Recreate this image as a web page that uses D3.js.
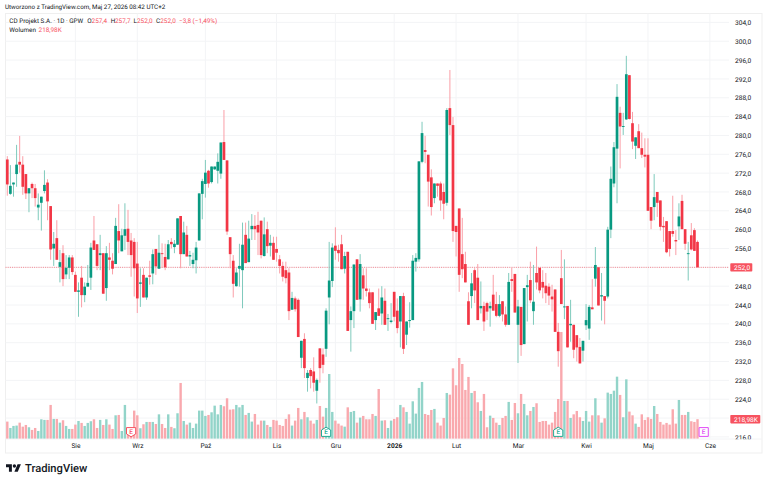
<!DOCTYPE html>
<html lang="pl">
<head>
<meta charset="utf-8">
<title>CD Projekt S.A. - 1D - GPW</title>
<script src="https://cdn.jsdelivr.net/npm/d3@7"></script>
<style>
  html, body { margin: 0; padding: 0; background: #fff; }
  svg { display: block; }
  text { font-family: Roboto, "Noto Sans", sans-serif; text-rendering: geometricPrecision; }
</style>
</head>
<body>
<svg id="chart" width="768" height="484"></svg>
<script>
// Daily sessions of CD Projekt on GPW, prices in PLN, volume in thousands of shares.
const opens = [
  274.9,267.6,269.6,271.8,274.4,273.8,271.8,267.7,269.7,268.8,
  264.7,265.7,268.2,270.0,265.0,256.0,258.2,252.1,255.0,250.5,
  251.9,254.1,250.4,246.8,249.8,246.1,247.9,249.8,257.7,256.9,
  254.6,255.0,247.6,254.1,253.4,252.7,259.7,255.4,258.7,260.2,
  257.7,257.4,252.8,248.5,250.4,245.6,250.3,250.7,255.9,251.7,
  255.0,254.2,253.7,257.4,256.3,256.8,262.9,254.8,258.9,254.3,
  252.7,253.5,257.7,267.6,269.7,272.5,270.1,272.8,272.5,271.9,
  278.6,274.7,258.4,253.4,248.0,251.7,251.4,258.9,253.1,260.1,
  260.8,261.0,261.9,254.4,260.1,256.6,257.2,255.9,253.7,252.3,
  251.4,250.9,243.0,245.4,245.1,232.8,236.8,228.5,230.2,229.9,
  225.8,234.8,233.5,234.7,245.6,249.1,256.6,255.7,256.9,251.7,
  255.3,240.8,242.7,253.7,245.2,250.3,247.5,246.7,246.7,240.8,
  243.3,242.2,244.9,241.0,240.4,246.8,242.8,240.5,245.9,237.7,
  240.6,240.8,253.2,253.7,274.4,276.9,275.9,271.1,266.7,269.8,
  269.8,268.0,265.7,285.8,282.2,260.8,264.5,254.8,252.7,244.8,
  245.9,251.4,249.8,243.3,243.8,244.4,243.3,246.2,244.2,241.7,
  244.8,242.0,239.8,249.5,250.6,239.8,243.6,235.7,247.8,249.3,
  242.7,250.8,251.9,248.9,248.1,247.9,245.8,247.3,238.3,249.7,
  243.5,243.8,239.7,239.8,237.6,235.1,234.3,239.7,239.0,243.5,
  249.6,252.0,245.8,245.9,245.8,260.0,269.8,277.2,284.8,281.8,
  283.4,292.8,282.6,277.8,280.9,277.3,275.9,275.9,264.8,264.8,
  268.0,266.2,260.8,261.8,259.7,259.7,257.8,260.7,266.1,260.1,
  254.8,258.8,259.9,257.4
];
const highs = [
  275.6,273.7,270.0,278.0,279.9,275.6,271.8,268.8,270.0,269.7,
  267.7,267.0,272.6,270.7,265.0,259.5,262.0,255.7,256.7,254.6,
  254.6,254.6,251.1,248.8,252.3,248.8,252.5,257.2,262.9,256.9,
  258.9,255.0,256.5,257.2,255.0,262.5,265.4,260.2,265.6,264.2,
  259.3,258.2,257.4,251.8,251.8,249.8,253.4,255.8,255.9,258.9,
  257.1,257.0,257.8,258.2,257.8,262.4,262.9,261.7,260.8,255.5,
  255.1,257.4,267.7,270.8,274.8,272.7,273.4,273.4,276.2,278.5,
  285.4,274.7,258.4,254.6,251.8,257.0,261.5,261.5,261.9,263.3,
  263.1,263.8,261.9,262.6,261.7,258.9,258.5,258.5,254.6,253.2,
  253.2,251.8,246.8,245.8,245.4,236.4,238.0,230.2,230.6,232.9,
  228.4,234.8,234.8,243.3,257.4,257.1,260.5,256.8,258.9,255.3,
  255.3,243.7,252.6,253.7,254.8,251.8,251.8,247.5,246.7,242.5,
  247.5,248.0,247.5,242.1,244.4,246.8,245.4,245.9,246.6,240.5,
  244.6,254.6,255.0,274.5,282.9,279.9,275.9,272.8,269.8,269.8,
  270.2,269.8,285.8,293.9,283.9,260.8,264.5,262.5,255.3,246.7,
  250.8,251.8,252.7,249.0,244.7,244.7,244.7,250.4,246.8,246.1,
  244.8,243.7,250.8,251.9,250.6,245.1,243.6,247.6,250.4,253.2,
  252.5,256.4,251.9,251.4,250.8,248.6,248.3,247.3,240.2,255.7,
  253.7,243.8,245.1,239.8,237.6,237.0,236.4,244.2,244.0,249.5,
  256.3,252.0,250.8,245.9,260.6,273.4,278.6,290.9,286.1,284.8,
  296.9,292.8,285.0,279.6,282.4,280.6,279.4,279.4,264.8,271.8,
  268.0,266.2,262.7,261.8,259.7,267.2,259.9,265.6,267.4,260.1,
  257.4,261.4,260.3,257.7
];
const lows = [
  267.2,267.4,267.0,269.1,272.1,267.4,266.5,263.7,266.7,264.9,
  262.0,259.8,267.7,262.0,253.6,252.3,253.6,248.8,248.0,249.5,
  249.5,250.4,246.8,241.5,243.5,244.6,247.9,247.2,255.7,251.4,
  251.4,246.4,244.9,251.4,250.5,252.7,255.0,255.4,255.7,254.6,
  250.0,245.8,242.3,243.6,245.6,245.1,248.3,248.4,250.4,251.7,
  251.9,251.4,253.7,256.0,255.0,256.8,251.8,254.8,254.3,252.3,
  251.8,250.7,257.7,262.2,266.8,268.9,269.8,272.7,269.8,270.8,
  274.8,258.9,251.8,245.6,247.9,247.9,243.3,252.9,253.1,257.8,
  257.8,254.6,253.9,254.3,255.0,254.3,253.6,253.2,250.7,249.0,
  248.6,240.8,243.0,242.6,237.2,230.6,228.5,225.6,226.3,225.6,
  223.1,227.5,229.5,233.0,239.9,247.8,253.6,253.2,251.6,250.7,
  238.5,234.1,239.1,245.1,242.6,245.1,245.8,243.3,240.0,238.7,
  241.7,239.8,239.8,238.5,240.1,240.5,238.0,235.0,233.6,235.5,
  239.2,240.8,251.1,253.2,274.1,274.1,264.9,263.0,265.6,267.0,
  264.0,262.2,265.1,280.1,257.4,254.3,246.8,249.7,248.8,239.8,
  243.3,244.4,240.8,242.2,238.5,240.8,239.4,242.8,241.4,241.4,
  240.5,239.4,239.8,246.8,242.4,231.7,233.2,235.7,240.5,244.4,
  239.8,247.3,246.5,245.4,244.4,244.0,242.6,238.3,230.9,244.2,
  241.0,235.0,236.2,232.7,232.0,231.6,232.0,238.7,236.6,243.1,
  247.9,243.9,240.7,239.9,245.4,258.2,269.0,265.6,273.0,280.1,
  283.3,283.4,277.1,275.0,277.3,275.2,273.2,264.0,260.1,262.0,
  262.7,259.8,257.4,255.0,254.3,258.5,254.6,257.8,260.1,255.7,
  249.2,255.6,255.5,252.0
];
const closes = [
  269.6,269.3,270.0,273.8,273.8,269.1,267.7,268.8,268.8,266.7,
  265.3,267.0,269.5,266.0,255.8,257.0,253.6,253.1,249.5,251.9,
  254.1,251.0,246.8,247.1,246.1,247.9,248.7,256.2,255.7,252.3,
  255.0,246.4,255.0,253.6,251.7,260.8,257.7,258.8,260.1,257.4,
  254.6,251.8,245.4,248.8,245.6,249.8,250.0,254.8,252.2,255.1,
  254.8,252.0,256.9,256.9,257.0,262.4,254.8,259.4,254.3,254.6,
  253.6,256.2,267.7,270.3,272.1,269.8,273.4,273.4,274.4,278.5,
  274.8,259.6,254.8,248.5,250.9,252.3,256.8,252.9,258.1,260.8,
  260.1,259.4,254.6,259.0,256.5,257.2,253.6,255.1,252.3,250.0,
  249.7,242.7,245.5,243.1,237.2,236.4,230.6,229.6,228.9,227.5,
  228.1,230.6,231.3,242.8,249.2,256.2,255.5,255.0,251.6,254.4,
  238.5,242.7,252.6,245.1,252.7,247.5,247.0,244.4,240.0,242.5,
  241.7,245.6,239.8,241.2,240.7,241.5,239.1,245.9,234.7,240.5,
  240.8,253.4,254.0,274.5,280.5,276.5,270.2,264.8,269.8,269.3,
  266.2,265.5,285.4,282.2,259.7,259.5,250.4,251.6,248.8,239.8,
  248.6,247.1,240.8,243.8,240.5,242.6,243.8,242.8,241.7,244.2,
  242.0,239.8,248.9,249.1,242.4,243.7,235.5,247.6,248.2,245.0,
  244.7,248.8,247.1,247.7,246.5,246.0,245.2,238.3,234.2,244.2,
  243.7,235.0,240.0,234.5,235.0,231.6,236.4,240.8,243.6,243.1,
  252.5,243.9,246.1,244.9,260.0,270.8,277.5,288.2,281.9,282.0,
  293.0,283.5,278.7,279.6,277.3,275.9,275.5,264.0,261.9,266.9,
  265.7,260.6,260.5,255.2,255.9,259.1,257.5,262.8,260.1,257.0,
  255.0,255.8,255.5,252.0
];
const volumes = [
  192,120,143,147,180,135,154,128,98,120,
  86,218,211,211,380,222,222,180,207,143,
  109,109,158,199,177,143,177,196,218,120,
  211,154,218,158,109,263,267,86,380,130,
  130,316,263,117,162,188,188,188,165,274,
  165,120,274,132,117,286,628,199,158,180,
  120,169,316,316,256,267,297,372,274,380,
  365,455,327,331,380,353,380,267,290,192,
  278,158,203,203,154,132,211,203,154,143,
  222,274,147,203,346,218,301,241,203,169,
  211,368,248,346,729,301,203,169,147,135,
  353,301,312,180,237,256,218,218,278,256,
  560,203,207,120,203,222,241,380,353,301,
  169,421,282,572,639,278,267,323,335,180,
  147,233,515,496,793,602,910,842,549,696,
  515,538,410,312,504,128,259,233,180,154,
  233,256,414,211,402,286,504,391,263,312,
  357,399,188,199,199,158,180,301,447,1203,
  425,425,233,274,312,241,199,312,192,263,
  455,263,180,229,519,504,541,699,493,241,
  669,305,263,169,132,274,211,241,222,368,
  278,188,158,177,158,331,169,436,267,267,
  301,196,188,218.98
];

// Month boundaries, given as session number on the time axis.
const monthLabels = ["Sie", "Wrz", "Paź", "Lis", "Gru", "2026", "Lut", "Mar", "Kwi", "Maj", "Cze"];
const monthSessions = [22, 42, 64, 87, 106, 125, 145, 165, 187, 207, 227];
const yearLabels = ["2026"];

const priceTicks = d3.range(216, 305, 4);
const lastPrice = 252.0;
const lastVolumeLabel = "218,98K";

// Sessions carrying an earnings flag: past reports and the upcoming one.
const earningsSessions = [40, 103, 178, 225];
const earningsKinds = ["miss", "beat", "beat", "next"];

const legendPieces = [
  { text: "CD Projekt S.A. · 1D · GPW", x: 9.3, fill: "#131722" },
  { text: "O", x: 87.2, fill: "#131722" },
  { text: "257,4", x: 91.6, fill: "#f7525f" },
  { text: "H", x: 110.8, fill: "#131722" },
  { text: "257,7", x: 115, fill: "#f7525f" },
  { text: "L", x: 133.4, fill: "#131722" },
  { text: "252,0", x: 137, fill: "#f7525f" },
  { text: "C", x: 156, fill: "#131722" },
  { text: "252,0", x: 160.3, fill: "#f7525f" },
  { text: "−3,8 (−1,49%)", x: 179, fill: "#f7525f" }
];

const UP = "#089981", DOWN = "#f23645";
const GRID = "#f3f4f6", FRAME = "#efefef";
const frame = { left: 5.5, right: 762, top: 13.5, bottom: 453 };
const paneRight = 729, paneBottom = 438.6;

const svg = d3.select("#chart");

const x = d3.scaleLinear().domain([0, 223]).range([7.3, 697.5]);
const y = d3.scaleLinear().domain([216, 304]).range([436.9, 22.4]);
const yVolume = d3.scaleLinear().domain([0, 1000]).range([paneBottom, 350]);

const rows = opens.map((o, i) => ({
  i, o, h: highs[i], l: lows[i], c: closes[i], v: volumes[i], up: closes[i] >= o
}));

svg.append("defs").append("clipPath").attr("id", "axis-clip")
  .append("rect").attr("x", paneRight).attr("y", frame.top)
  .attr("width", frame.right - paneRight).attr("height", paneBottom + 0.6 - frame.top);

// Outer frame of the chart
svg.append("rect")
  .attr("x", frame.left).attr("y", frame.top)
  .attr("width", frame.right - frame.left).attr("height", frame.bottom - frame.top)
  .attr("fill", "#fff").attr("stroke", FRAME);

// Grid
svg.append("g").selectAll("line").data(priceTicks).join("line")
  .attr("x1", frame.left).attr("x2", paneRight)
  .attr("y1", d => y(d)).attr("y2", d => y(d))
  .attr("stroke", GRID);
svg.append("g").selectAll("line").data(monthSessions).join("line")
  .attr("x1", d => x(d)).attr("x2", d => x(d))
  .attr("y1", frame.top).attr("y2", paneBottom)
  .attr("stroke", GRID);
svg.append("line")
  .attr("x1", frame.left).attr("x2", frame.right)
  .attr("y1", paneBottom + 0.4).attr("y2", paneBottom + 0.4)
  .attr("stroke", GRID);

// Volume histogram
svg.append("g").selectAll("rect").data(rows).join("rect")
  .attr("x", d => x(d.i) - 1.2)
  .attr("width", 2.4)
  .attr("y", d => yVolume(d.v))
  .attr("height", d => paneBottom - yVolume(d.v))
  .attr("fill", d => d.up ? "#92d4c9" : "#f9a9ae");

// Last price line
svg.append("line")
  .attr("x1", frame.left).attr("x2", paneRight)
  .attr("y1", y(lastPrice)).attr("y2", y(lastPrice))
  .attr("stroke", "#f4838d").attr("stroke-width", 1)
  .attr("stroke-dasharray", "1 1.2");

// Candles: wick first, then the body on top
const candles = svg.append("g");
candles.selectAll("line").data(rows).join("line")
  .attr("x1", d => x(d.i)).attr("x2", d => x(d.i))
  .attr("y1", d => y(d.h)).attr("y2", d => y(d.l))
  .attr("stroke", d => d.up ? "#7fcabc" : "#fa9fa7")
  .attr("stroke-width", 1);
candles.selectAll("rect").data(rows).join("rect")
  .attr("x", d => x(d.i) - 1.35)
  .attr("width", 2.7)
  .attr("y", d => y(Math.max(d.o, d.c)))
  .attr("height", d => Math.max(0.9, Math.abs(y(d.o) - y(d.c))))
  .attr("fill", d => d.up ? UP : DOWN);

// Earnings flags along the bottom of the pane
const flagColors = { miss: "#f7525f", beat: "#22ab94", next: "#e04cf5" };
const flagPaths = {
  miss: "M-4.6,-4.4H4.6V2L0,4.8L-4.6,2Z",
  beat: "M-4.6,-2L0,-4.8L4.6,-2V4.4H-4.6Z",
  next: "M-4.6,-4.4H4.6V4.4H-4.6Z"
};
const flags = svg.append("g").selectAll("g").data(earningsSessions).join("g")
  .attr("transform", d => `translate(${x(d)},432)`);
flags.append("path")
  .attr("d", (d, i) => flagPaths[earningsKinds[i]])
  .attr("fill", "#fff")
  .attr("stroke", (d, i) => flagColors[earningsKinds[i]])
  .attr("stroke-width", 1);
flags.append("text")
  .attr("text-anchor", "middle").attr("y", 2.4)
  .attr("font-size", 6.5).attr("font-weight", 500)
  .attr("fill", (d, i) => flagColors[earningsKinds[i]])
  .text("E");

// Price axis
const yAxis = d3.axisRight(y)
  .tickValues(priceTicks.filter(d => d !== 220 && d !== 252))
  .tickSize(0).tickPadding(0)
  .tickFormat(d => d3.format(".1f")(d).replace(".", ","));
const yAxisG = svg.append("g")
  .attr("clip-path", "url(#axis-clip)")
  .append("g").attr("transform", "translate(735,0)")
  .call(yAxis);
yAxisG.select(".domain").remove();
yAxisG.selectAll("text")
  .attr("font-family", null).attr("font-size", 6.6).attr("fill", "#131722");

// Time axis
const xAxis = d3.axisBottom(x)
  .tickValues(monthSessions)
  .tickSize(0).tickPadding(0)
  .tickFormat(d => monthLabels[monthSessions.indexOf(d)]);
const xAxisG = svg.append("g").attr("transform", "translate(0,443)").call(xAxis);
xAxisG.select(".domain").remove();
xAxisG.selectAll("text")
  .attr("font-family", null).attr("font-size", 6.6).attr("fill", "#131722")
  .attr("font-weight", d => yearLabels.includes(monthLabels[monthSessions.indexOf(d)]) ? 700 : 400);

// Value tags on the price axis
function priceTag(cy, width, label) {
  svg.append("rect")
    .attr("x", 730.3).attr("y", cy - 4.2)
    .attr("width", width).attr("height", 8.4).attr("rx", 0.8)
    .attr("fill", "#f7525f");
  svg.append("text")
    .attr("x", 734).attr("y", cy + 2.4)
    .attr("font-size", 6.6).attr("fill", "#fff")
    .text(label);
}
priceTag(y(lastPrice), 22, d3.format(".1f")(lastPrice).replace(".", ","));
priceTag(yVolume(volumes[volumes.length - 1]), 30, lastVolumeLabel);

// Header lines
svg.append("text")
  .attr("x", 5).attr("y", 9.3)
  .attr("font-size", 6.25).attr("fill", "#131722")
  .text("Utworzono z TradingView.com, Maj 27, 2026 08:42 UTC+2");

svg.append("g").selectAll("text").data(legendPieces).join("text")
  .attr("x", d => d.x).attr("y", 23.3)
  .attr("font-size", 6.35).attr("fill", d => d.fill)
  .text(d => d.text);
svg.append("text")
  .attr("x", 9.3).attr("y", 32).attr("font-size", 6.35).attr("fill", "#131722")
  .text("Wolumen");
svg.append("text")
  .attr("x", 38.6).attr("y", 32).attr("font-size", 6.35).attr("fill", "#f7525f")
  .text(lastVolumeLabel);

// TradingView wordmark
const logo = svg.append("g").attr("transform", "translate(6,462.6) scale(0.42)").attr("fill", "#131722");
logo.append("path").attr("d", "M14 22H7V11H0V4h14v18zM28 22h-8l7.5-18h8L28 22z");
logo.append("circle").attr("cx", 20).attr("cy", 8).attr("r", 4);
svg.append("text")
  .attr("x", 25).attr("y", 472.2)
  .attr("font-family", "Inter, Roboto, sans-serif")
  .attr("font-size", 11.2).attr("font-weight", 500).attr("fill", "#131722")
  .text("TradingView");
</script>
</body>
</html>
